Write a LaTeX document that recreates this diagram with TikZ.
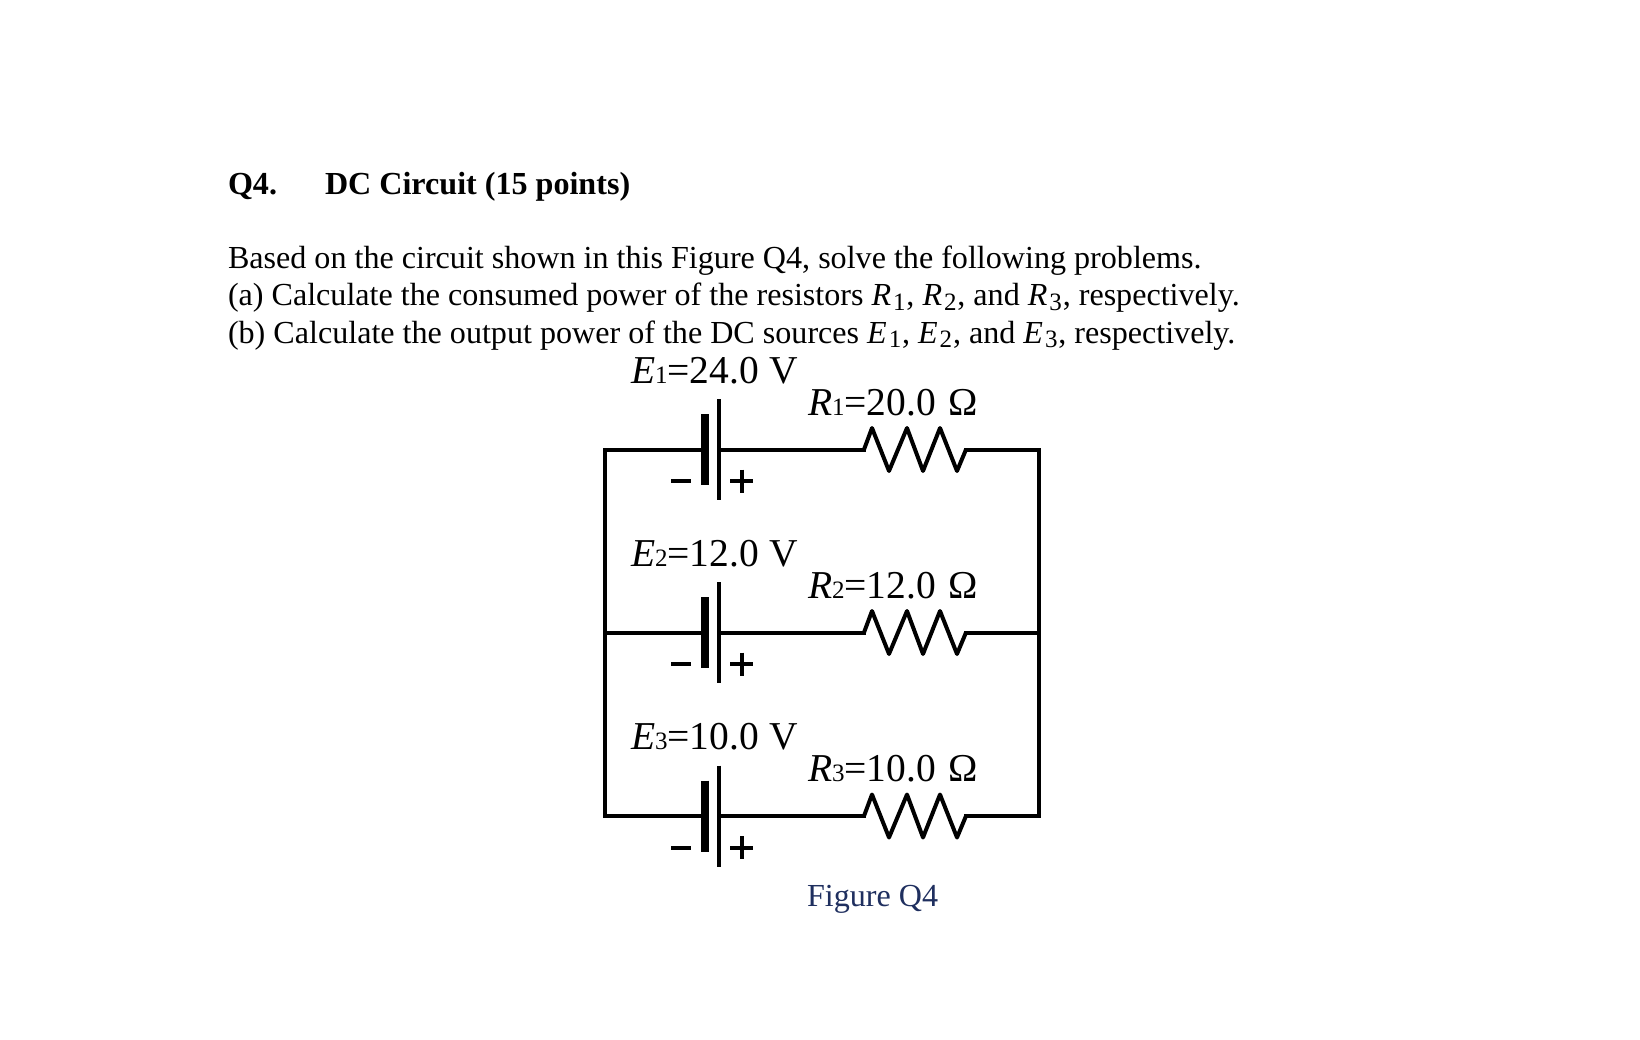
\documentclass[tikz,border=0pt]{standalone}
\usepackage{fontspec}
\usetikzlibrary{calc}
\setmainfont{Liberation Serif}
\newcommand{\bodysize}{\fontsize{32.1}{32.1}\selectfont}
\newcommand{\labsize}{\fontsize{39.5}{39.5}\selectfont}
\newcommand{\msub}[2]{\textit{#1}\kern2pt\raisebox{-5pt}{\fontsize{25}{25}\selectfont #2}\kern0.8pt}
\newcommand{\lsub}[2]{\textit{#1}{\fontsize{25}{25}\selectfont #2}}
\definecolor{figblue}{HTML}{1F2F5F}
\tikzset{
  txt/.style={anchor=base west,inner sep=0pt,outer sep=0pt,font=\bodysize,text=black},
  lab/.style={anchor=base west,inner sep=0pt,outer sep=0pt,font=\labsize,text=black},
  wire/.style={draw=black,line width=4pt,line cap=rect,line join=miter},
  thickplate/.style={draw=black,line width=8pt},
  thinplate/.style={draw=black,line width=3.6pt},
  polarity/.style={draw=black,line width=4pt}
}
\begin{document}
\begin{tikzpicture}[x=1pt,y=-1pt]
\useasboundingbox[fill=white] (0,0) rectangle (1640,1040);
\node[txt] (title) at (228,195) {\textbf{Q4.}};
\node[txt] (titleb) at (325,195) {\textbf{DC Circuit (15 points)}};
\node[txt] (l1) at (228,269) {Based on the circuit shown in this Figure Q4, solve the following problems.};
\node[txt] (l2) at (228,306) {(a) Calculate the consumed power of the resistors \msub{R}{1}, \msub{R}{2}, and \msub{R}{3}, respectively.};
\node[txt] (l3) at (228,343) {(b) Calculate the output power of the DC sources \msub{E}{1}, \msub{E}{2}, and \msub{E}{3}, respectively.};

\foreach \i/\y/\ev/\rv in {1/449.5/24.0/20.0,2/632.5/12.0/12.0,3/816/10.0/10.0}{
  \coordinate (L\i) at (605,\y);
  \coordinate (R\i) at (1039,\y);
  \coordinate (bn\i) at (705,\y);
  \coordinate (bp\i) at (719,\y);
  \coordinate (ra\i) at (864,\y);
  \coordinate (rb\i) at (966,\y);
  \draw[thickplate] ($(bn\i)+(0,-35.5)$) -- ($(bn\i)+(0,35.5)$);
  \draw[thinplate] ($(bp\i)+(0,-50.5)$) -- ($(bp\i)+(0,50.5)$);
  \draw[wire] (L\i) -- (bn\i);
  \draw[wire] (bp\i) -- (ra\i);
  \draw[wire,line cap=butt,line join=round] (ra\i) -- ++(8,-21.5) -- ++(17,43) -- ++(18,-43) -- ++(16,43) -- ++(17,-43) -- ++(17,43) -- (rb\i);
  \draw[wire] (rb\i) -- (R\i);
  \draw[polarity] ($(bn\i)+(-34,31.5)$) -- ($(bn\i)+(-14,31.5)$);
  \draw[polarity] ($(bp\i)+(11,31.5)$) -- ($(bp\i)+(34,31.5)$);
  \draw[polarity] ($(bp\i)+(22.5,20)$) -- ($(bp\i)+(22.5,43)$);
  \node[lab] (e\i) at ($(L\i)+(26,-66.5)$) {\lsub{E}{\i}=\ev\ \kern1pt V};
  \node[lab] (r\i) at ($(L\i)+(203,-34.5)$) {\lsub{R}{\i}=\rv\ \kern3pt Ω};
}
\draw[wire] (L1) -- (L3);
\draw[wire] (R1) -- (R3);
\node[txt,text=figblue] (cap) at (807,906) {Figure Q4};
\end{tikzpicture}
\end{document}
